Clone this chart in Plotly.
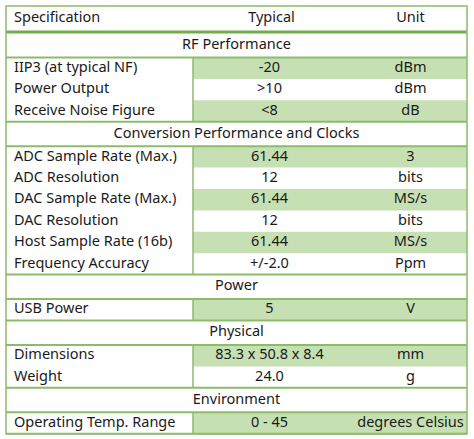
import plotly.graph_objects as go

columns = ["Specification", "Typical", "Unit"]

sections = [
    ("RF Performance", [
        ("IIP3 (at typical NF)", "-20", "dBm"),
        ("Power Output", ">10", "dBm"),
        ("Receive Noise Figure", "<8", "dB"),
    ]),
    ("Conversion Performance and Clocks", [
        ("ADC Sample Rate (Max.)", "61.44", "3"),
        ("ADC Resolution", "12", "bits"),
        ("DAC Sample Rate (Max.)", "61.44", "MS/s"),
        ("DAC Resolution", "12", "bits"),
        ("Host Sample Rate (16b)", "61.44", "MS/s"),
        ("Frequency Accuracy", "+/-2.0", "Ppm"),
    ]),
    ("Power", [("USB Power", "5", "V")]),
    ("Physical", [
        ("Dimensions", "83.3 x 50.8 x 8.4", "mm"),
        ("Weight", "24.0", "g"),
    ]),
    ("Environment", [("Operating Temp. Range", "0 - 45", "degrees Celsius")]),
]

# layout geometry (pixels)
X0, X1, X2, X3 = 6, 193, 330, 467
TOP, HEAD_H, SEC_H, ROW_H = 6, 25, 24.5, 21.4
SHADE = "#c6e0b4"
LINE = "#8dbb6e"
DARK = "#70ad47"
FONT = "Noto Sans"

shapes = []
tx, ty, tt, tp = [], [], [], []

def add_text(x, y, s, pos):
    tx.append(x); ty.append(y); tt.append(s); tp.append(pos)

y = TOP
add_text(X0 + 8, y + HEAD_H / 2, columns[0], "middle right")
add_text((X1 + X2) / 2 + 10, y + HEAD_H / 2, columns[1], "middle center")
add_text((X2 + X3) / 2 + 12, y + HEAD_H / 2, columns[2], "middle center")
y += HEAD_H
shapes.append(dict(type="line", x0=X0, x1=X3, y0=y + 1, y1=y + 1, line=dict(color=DARK, width=3)))
y += 2

for title, rows in sections:
    add_text((X0 + X3) / 2, y + SEC_H / 2, title, "middle center")
    y += SEC_H
    shapes.append(dict(type="line", x0=X0, x1=X3, y0=y, y1=y, line=dict(color=LINE, width=2)))
    start = y
    for i, (a, b, c) in enumerate(rows):
        if i % 2 == 0:
            shapes.append(dict(type="rect", x0=X1, x1=X3, y0=y, y1=y + ROW_H,
                               fillcolor=SHADE, line=dict(width=0), layer="below"))
        add_text(X0 + 8, y + ROW_H / 2, a, "middle right")
        add_text((X1 + X2) / 2 + 8, y + ROW_H / 2, b, "middle center")
        add_text((X2 + X3) / 2 + 12, y + ROW_H / 2, c, "middle center")
        y += ROW_H
    shapes.append(dict(type="line", x0=X1, x1=X1, y0=start, y1=y, line=dict(color=LINE, width=1.5)))
    shapes.append(dict(type="line", x0=X0, x1=X3, y0=y, y1=y, line=dict(color=LINE, width=2)))

shapes.append(dict(type="rect", x0=X0, x1=X3, y0=TOP, y1=y, line=dict(color=LINE, width=1.5)))

fig = go.Figure(go.Scatter(x=tx, y=ty, text=tt, mode="text", textposition=tp,
                           textfont=dict(family=FONT, size=14.5, color="#1a1a1a"),
                           hoverinfo="skip"))
fig.update_layout(width=474, height=439, margin=dict(l=0, r=0, t=0, b=0),
                  plot_bgcolor="white", paper_bgcolor="white", shapes=shapes,
                  showlegend=False)
fig.update_xaxes(range=[0, 474], visible=False, fixedrange=True)
fig.update_yaxes(range=[439, 0], visible=False, fixedrange=True)
fig.write_html("out.html", config={"displayModeBar": False})

# drop the default body margin so the figure sits at the window origin
with open("out.html") as f:
    html = f.read()
html = html.replace("<body>", '<body style="margin:0;overflow:hidden">', 1)
with open("out.html", "w") as f:
    f.write(html)
